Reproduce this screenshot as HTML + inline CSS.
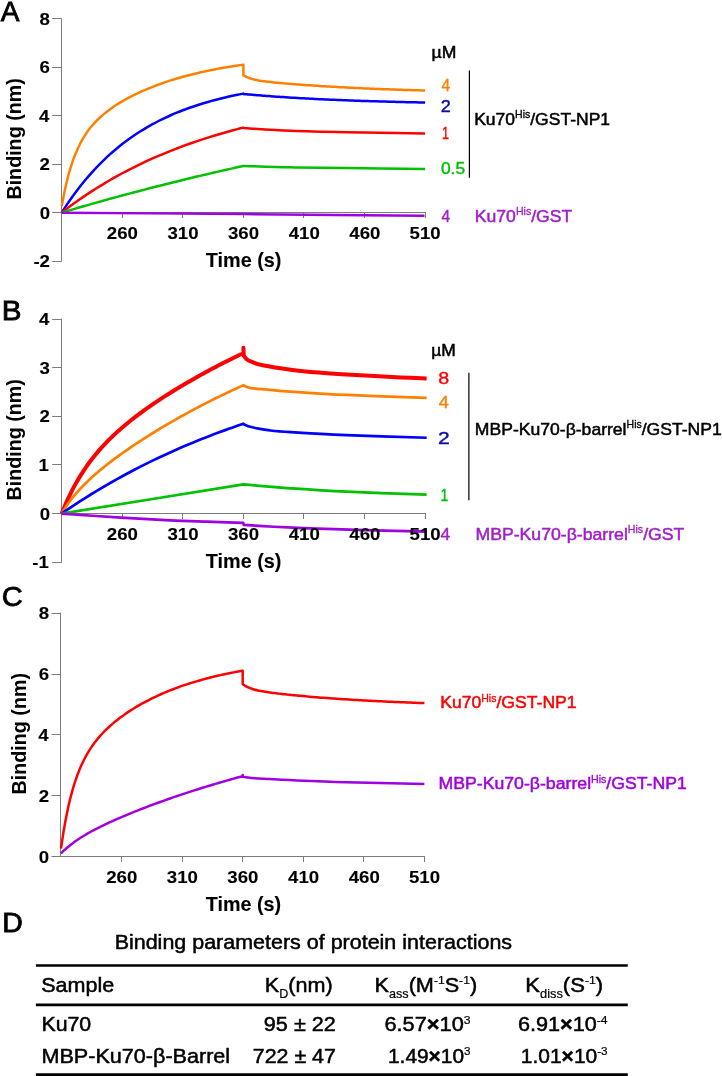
<!DOCTYPE html>
<html><head><meta charset="utf-8"><title>Binding figure</title>
<style>
html,body{margin:0;padding:0;background:#fff;}
svg{display:block;font-family:"Liberation Sans",sans-serif;}
</style></head><body>
<svg width="722" height="1076" viewBox="0 0 722 1076">
<rect width="722" height="1076" fill="#fff"/>
<path d="M61.50 18.39 V261.59 M52.20 18.50 H61.50 M52.20 67.50 H61.50 M52.20 115.50 H61.50 M52.20 164.50 H61.50 M52.20 212.50 H61.50 M52.20 261.50 H61.50 M61.50 212.50 H426.00 M122.50 212.50 V218.00 M182.50 212.50 V218.00 M243.50 212.50 V218.00 M303.50 212.50 V218.00 M364.50 212.50 V218.00 M425.50 212.50 V218.00" stroke="#7c7c7c" stroke-width="1" fill="none"/>
<text transform="translate(21.30 138.90) rotate(-90)" text-anchor="middle" font-size="19.7" font-weight="bold">Binding (nm)</text>
<path d="M61.70 206.35 C62.20 203.74 63.72 195.45 64.73 190.69 C65.74 185.93 66.75 181.73 67.76 177.80 C68.77 173.88 69.78 170.39 70.78 167.12 C71.79 163.85 72.80 160.94 73.81 158.19 C74.82 155.44 75.83 152.98 76.84 150.65 C77.85 148.32 78.86 146.21 79.87 144.21 C80.88 142.22 81.89 140.40 82.90 138.67 C83.91 136.94 84.92 135.35 85.93 133.84 C86.94 132.32 87.94 130.92 88.95 129.58 C89.96 128.24 90.97 126.99 91.98 125.80 C92.99 124.60 94.00 123.47 95.01 122.39 C96.02 121.31 97.03 120.29 98.04 119.30 C99.05 118.32 100.06 117.38 101.07 116.48 C102.08 115.57 103.09 114.71 104.10 113.87 C105.10 113.03 106.11 112.22 107.12 111.44 C108.13 110.66 109.14 109.91 110.15 109.18 C111.16 108.44 112.17 107.74 113.18 107.05 C114.19 106.36 115.20 105.69 116.21 105.03 C117.22 104.38 118.23 103.75 119.24 103.13 C120.25 102.51 121.26 101.90 122.27 101.31 C123.27 100.72 124.28 100.15 125.29 99.58 C126.30 99.02 127.31 98.47 128.32 97.93 C129.33 97.39 130.34 96.86 131.35 96.34 C132.36 95.83 133.37 95.32 134.38 94.82 C135.39 94.33 136.40 93.84 137.41 93.36 C138.42 92.89 139.43 92.42 140.43 91.96 C141.44 91.50 142.45 91.05 143.46 90.61 C144.47 90.17 145.48 89.73 146.49 89.31 C147.50 88.88 148.51 88.46 149.52 88.05 C150.53 87.64 151.54 87.24 152.55 86.84 C153.56 86.44 154.57 86.06 155.58 85.67 C156.59 85.29 157.59 84.92 158.60 84.55 C159.61 84.18 160.62 83.82 161.63 83.46 C162.64 83.10 163.65 82.75 164.66 82.41 C165.67 82.07 166.68 81.73 167.69 81.40 C168.70 81.06 169.71 80.74 170.72 80.42 C171.73 80.10 172.74 79.78 173.75 79.47 C174.75 79.16 175.76 78.86 176.77 78.56 C177.78 78.26 178.79 77.96 179.80 77.68 C180.81 77.39 181.82 77.10 182.83 76.82 C183.84 76.54 184.85 76.27 185.86 76.00 C186.87 75.73 187.88 75.46 188.89 75.20 C189.90 74.94 190.91 74.69 191.91 74.44 C192.92 74.18 193.93 73.94 194.94 73.69 C195.95 73.45 196.96 73.21 197.97 72.98 C198.98 72.74 199.99 72.51 201.00 72.28 C202.01 72.05 203.02 71.83 204.03 71.61 C205.04 71.39 206.05 71.18 207.06 70.96 C208.07 70.75 209.07 70.54 210.08 70.34 C211.09 70.13 212.10 69.93 213.11 69.73 C214.12 69.54 215.13 69.34 216.14 69.15 C217.15 68.96 218.16 68.77 219.17 68.59 C220.18 68.40 221.19 68.22 222.20 68.04 C223.21 67.86 224.22 67.69 225.23 67.51 C226.23 67.34 227.24 67.17 228.25 67.00 C229.26 66.84 230.27 66.67 231.28 66.51 C232.29 66.35 233.30 66.19 234.31 66.04 C235.32 65.88 236.33 65.73 237.34 65.58 C238.35 65.43 239.36 65.28 240.37 65.13 C241.38 64.99 242.89 64.77 243.39 64.70 L243.39 75.31 C243.90 75.59 245.41 76.48 246.42 76.96 C247.43 77.44 248.44 77.82 249.45 78.18 C250.46 78.54 251.47 78.83 252.48 79.11 C253.49 79.38 254.50 79.62 255.51 79.83 C256.52 80.05 257.53 80.24 258.54 80.42 C259.55 80.60 260.56 80.76 261.56 80.92 C262.57 81.07 263.58 81.21 264.59 81.34 C265.60 81.48 266.61 81.60 267.62 81.72 C268.63 81.84 269.64 81.96 270.65 82.07 C271.66 82.18 272.67 82.28 273.68 82.39 C274.69 82.49 275.70 82.59 276.71 82.69 C277.72 82.78 278.72 82.88 279.73 82.97 C280.74 83.07 281.75 83.16 282.76 83.25 C283.77 83.34 284.78 83.42 285.79 83.51 C286.80 83.60 287.81 83.68 288.82 83.76 C289.83 83.85 290.84 83.93 291.85 84.01 C292.86 84.09 293.87 84.17 294.88 84.25 C295.88 84.33 296.89 84.41 297.90 84.49 C298.91 84.56 299.92 84.64 300.93 84.71 C301.94 84.79 302.95 84.86 303.96 84.93 C304.97 85.01 305.98 85.08 306.99 85.15 C308.00 85.22 309.01 85.29 310.02 85.36 C311.03 85.43 312.04 85.50 313.04 85.57 C314.05 85.63 315.06 85.70 316.07 85.77 C317.08 85.83 318.09 85.90 319.10 85.96 C320.11 86.03 321.12 86.09 322.13 86.15 C323.14 86.22 324.15 86.28 325.16 86.34 C326.17 86.40 327.18 86.46 328.19 86.52 C329.20 86.58 330.20 86.64 331.21 86.70 C332.22 86.76 333.23 86.82 334.24 86.87 C335.25 86.93 336.26 86.99 337.27 87.04 C338.28 87.10 339.29 87.15 340.30 87.21 C341.31 87.26 342.32 87.31 343.33 87.37 C344.34 87.42 345.35 87.47 346.36 87.52 C347.36 87.57 348.37 87.63 349.38 87.68 C350.39 87.73 351.40 87.78 352.41 87.83 C353.42 87.87 354.43 87.92 355.44 87.97 C356.45 88.02 357.46 88.07 358.47 88.11 C359.48 88.16 360.49 88.21 361.50 88.25 C362.51 88.30 363.52 88.34 364.52 88.39 C365.53 88.43 366.54 88.48 367.55 88.52 C368.56 88.56 369.57 88.61 370.58 88.65 C371.59 88.69 372.60 88.73 373.61 88.78 C374.62 88.82 375.63 88.86 376.64 88.90 C377.65 88.94 378.66 88.98 379.67 89.02 C380.68 89.06 381.69 89.10 382.69 89.14 C383.70 89.17 384.71 89.21 385.72 89.25 C386.73 89.29 387.74 89.32 388.75 89.36 C389.76 89.40 390.77 89.43 391.78 89.47 C392.79 89.51 393.80 89.54 394.81 89.58 C395.82 89.61 396.83 89.64 397.84 89.68 C398.85 89.71 399.85 89.75 400.86 89.78 C401.87 89.81 402.88 89.85 403.89 89.88 C404.90 89.91 405.91 89.94 406.92 89.97 C407.93 90.01 408.94 90.04 409.95 90.07 C410.96 90.10 411.97 90.13 412.98 90.16 C413.99 90.19 415.00 90.22 416.01 90.25 C417.01 90.28 418.02 90.31 419.03 90.34 C420.04 90.37 421.05 90.39 422.06 90.42 C423.07 90.45 424.59 90.49 425.09 90.51" stroke="#ff8000" stroke-width="2.50" fill="none" stroke-linejoin="round"/>
<path d="M61.70 212.65 C62.71 211.11 65.74 206.38 67.76 203.41 C69.78 200.43 71.79 197.57 73.81 194.79 C75.83 192.02 77.85 189.35 79.87 186.77 C81.89 184.19 83.91 181.70 85.93 179.30 C87.94 176.89 89.96 174.58 91.98 172.34 C94.00 170.09 96.02 167.94 98.04 165.85 C100.06 163.76 102.08 161.75 104.10 159.81 C106.11 157.86 108.13 155.99 110.15 154.18 C112.17 152.36 114.19 150.62 116.21 148.93 C118.23 147.24 120.25 145.62 122.27 144.05 C124.28 142.47 126.30 140.96 128.32 139.50 C130.34 138.03 132.36 136.62 134.38 135.25 C136.40 133.89 138.42 132.58 140.43 131.30 C142.45 130.03 144.47 128.81 146.49 127.62 C148.51 126.44 150.53 125.30 152.55 124.20 C154.57 123.09 156.59 122.03 158.60 121.00 C160.62 119.97 162.64 118.99 164.66 118.03 C166.68 117.07 168.70 116.15 170.72 115.26 C172.74 114.36 174.75 113.50 176.77 112.67 C178.79 111.84 180.81 111.04 182.83 110.27 C184.85 109.49 186.87 108.75 188.89 108.03 C190.91 107.31 192.92 106.61 194.94 105.94 C196.96 105.27 198.98 104.62 201.00 103.99 C203.02 103.37 205.04 102.77 207.06 102.18 C209.07 101.60 211.09 101.04 213.11 100.49 C215.13 99.95 217.15 99.43 219.17 98.92 C221.19 98.41 223.21 97.93 225.23 97.46 C227.24 96.98 229.26 96.53 231.28 96.09 C233.30 95.65 235.32 95.23 237.34 94.82 C239.36 94.41 242.39 93.83 243.39 93.64 L243.39 93.97 C243.90 94.02 245.41 94.16 246.42 94.25 C247.43 94.34 248.44 94.43 249.45 94.52 C250.46 94.61 251.47 94.70 252.48 94.78 C253.49 94.87 254.50 94.95 255.51 95.04 C256.52 95.12 257.53 95.21 258.54 95.29 C259.55 95.37 260.56 95.45 261.56 95.53 C262.57 95.61 263.58 95.69 264.59 95.77 C265.60 95.85 266.61 95.92 267.62 96.00 C268.63 96.08 269.64 96.15 270.65 96.23 C271.66 96.30 272.67 96.37 273.68 96.45 C274.69 96.52 275.70 96.59 276.71 96.66 C277.72 96.73 278.72 96.80 279.73 96.87 C280.74 96.94 281.75 97.01 282.76 97.07 C283.77 97.14 284.78 97.21 285.79 97.27 C286.80 97.34 287.81 97.40 288.82 97.46 C289.83 97.53 290.84 97.59 291.85 97.65 C292.86 97.71 293.87 97.78 294.88 97.84 C295.88 97.90 296.89 97.96 297.90 98.01 C298.91 98.07 299.92 98.13 300.93 98.19 C301.94 98.25 302.95 98.30 303.96 98.36 C304.97 98.41 305.98 98.47 306.99 98.52 C308.00 98.58 309.01 98.63 310.02 98.69 C311.03 98.74 312.04 98.79 313.04 98.84 C314.05 98.89 315.06 98.95 316.07 99.00 C317.08 99.05 318.09 99.10 319.10 99.15 C320.11 99.19 321.12 99.24 322.13 99.29 C323.14 99.34 324.15 99.39 325.16 99.43 C326.17 99.48 327.18 99.53 328.19 99.57 C329.20 99.62 330.20 99.66 331.21 99.71 C332.22 99.75 333.23 99.79 334.24 99.84 C335.25 99.88 336.26 99.92 337.27 99.97 C338.28 100.01 339.29 100.05 340.30 100.09 C341.31 100.13 342.32 100.17 343.33 100.21 C344.34 100.25 345.35 100.29 346.36 100.33 C347.36 100.37 348.37 100.41 349.38 100.45 C350.39 100.48 351.40 100.52 352.41 100.56 C353.42 100.59 354.43 100.63 355.44 100.67 C356.45 100.70 357.46 100.74 358.47 100.77 C359.48 100.81 360.49 100.84 361.50 100.88 C362.51 100.91 363.52 100.95 364.52 100.98 C365.53 101.01 366.54 101.05 367.55 101.08 C368.56 101.11 369.57 101.14 370.58 101.18 C371.59 101.21 372.60 101.24 373.61 101.27 C374.62 101.30 375.63 101.33 376.64 101.36 C377.65 101.39 378.66 101.42 379.67 101.45 C380.68 101.48 381.69 101.51 382.69 101.54 C383.70 101.57 384.71 101.59 385.72 101.62 C386.73 101.65 387.74 101.68 388.75 101.70 C389.76 101.73 390.77 101.76 391.78 101.78 C392.79 101.81 393.80 101.84 394.81 101.86 C395.82 101.89 396.83 101.91 397.84 101.94 C398.85 101.96 399.85 101.99 400.86 102.01 C401.87 102.04 402.88 102.06 403.89 102.09 C404.90 102.11 405.91 102.13 406.92 102.16 C407.93 102.18 408.94 102.20 409.95 102.23 C410.96 102.25 411.97 102.27 412.98 102.29 C413.99 102.32 415.00 102.34 416.01 102.36 C417.01 102.38 418.02 102.40 419.03 102.42 C420.04 102.44 421.05 102.46 422.06 102.49 C423.07 102.51 424.59 102.54 425.09 102.55" stroke="#0000ff" stroke-width="2.50" fill="none" stroke-linejoin="round"/>
<path d="M61.70 212.65 C62.71 211.88 65.74 209.53 67.76 208.01 C69.78 206.50 71.79 205.01 73.81 203.55 C75.83 202.09 77.85 200.66 79.87 199.25 C81.89 197.84 83.91 196.46 85.93 195.11 C87.94 193.75 89.96 192.42 91.98 191.12 C94.00 189.81 96.02 188.53 98.04 187.27 C100.06 186.02 102.08 184.78 104.10 183.57 C106.11 182.36 108.13 181.17 110.15 180.01 C112.17 178.84 114.19 177.70 116.21 176.57 C118.23 175.45 120.25 174.35 122.27 173.27 C124.28 172.18 126.30 171.12 128.32 170.08 C130.34 169.04 132.36 168.02 134.38 167.01 C136.40 166.01 138.42 165.02 140.43 164.06 C142.45 163.09 144.47 162.14 146.49 161.21 C148.51 160.28 150.53 159.36 152.55 158.47 C154.57 157.57 156.59 156.69 158.60 155.83 C160.62 154.96 162.64 154.11 164.66 153.28 C166.68 152.45 168.70 151.63 170.72 150.83 C172.74 150.03 174.75 149.24 176.77 148.47 C178.79 147.70 180.81 146.94 182.83 146.20 C184.85 145.45 186.87 144.72 188.89 144.01 C190.91 143.29 192.92 142.59 194.94 141.90 C196.96 141.21 198.98 140.53 201.00 139.87 C203.02 139.20 205.04 138.55 207.06 137.91 C209.07 137.27 211.09 136.64 213.11 136.03 C215.13 135.41 217.15 134.81 219.17 134.21 C221.19 133.62 223.21 133.03 225.23 132.46 C227.24 131.89 229.26 131.33 231.28 130.78 C233.30 130.23 235.32 129.69 237.34 129.16 C239.36 128.63 242.39 127.85 243.39 127.59 L244.00 128.12 C251.77 128.57 273.58 130.10 290.64 130.79 C307.69 131.47 323.95 131.80 346.36 132.24 C368.76 132.68 411.97 133.25 425.09 133.45" stroke="#ff0000" stroke-width="2.50" fill="none" stroke-linejoin="round"/>
<path d="M61.70 212.65 C62.71 212.35 65.74 211.45 67.76 210.86 C69.78 210.26 71.79 209.67 73.81 209.08 C75.83 208.49 77.85 207.90 79.87 207.32 C81.89 206.74 83.91 206.16 85.93 205.58 C87.94 205.00 89.96 204.43 91.98 203.85 C94.00 203.28 96.02 202.71 98.04 202.15 C100.06 201.58 102.08 201.02 104.10 200.46 C106.11 199.90 108.13 199.34 110.15 198.79 C112.17 198.23 114.19 197.68 116.21 197.13 C118.23 196.58 120.25 196.03 122.27 195.49 C124.28 194.95 126.30 194.41 128.32 193.87 C130.34 193.33 132.36 192.79 134.38 192.26 C136.40 191.73 138.42 191.20 140.43 190.67 C142.45 190.14 144.47 189.62 146.49 189.09 C148.51 188.57 150.53 188.05 152.55 187.54 C154.57 187.02 156.59 186.50 158.60 185.99 C160.62 185.48 162.64 184.97 164.66 184.46 C166.68 183.96 168.70 183.45 170.72 182.95 C172.74 182.45 174.75 181.95 176.77 181.45 C178.79 180.96 180.81 180.46 182.83 179.97 C184.85 179.48 186.87 178.99 188.89 178.50 C190.91 178.02 192.92 177.53 194.94 177.05 C196.96 176.57 198.98 176.09 201.00 175.61 C203.02 175.13 205.04 174.66 207.06 174.19 C209.07 173.71 211.09 173.24 213.11 172.78 C215.13 172.31 217.15 171.84 219.17 171.38 C221.19 170.92 223.21 170.46 225.23 170.00 C227.24 169.54 229.26 169.08 231.28 168.63 C233.30 168.18 235.32 167.73 237.34 167.28 C239.36 166.83 242.39 166.16 243.39 165.94 L244.61 165.91 C252.28 166.15 273.68 167.00 290.64 167.36 C307.59 167.72 323.95 167.80 346.36 168.09 C368.76 168.37 411.97 168.89 425.09 169.05" stroke="#00c000" stroke-width="2.50" fill="none" stroke-linejoin="round"/>
<path d="M61.70 212.65 C91.98 212.89 213.11 213.86 243.39 214.10 L243.39 214.10 C273.58 214.39 394.30 215.52 424.48 215.80" stroke="#a000e0" stroke-width="2.50" fill="none" stroke-linejoin="round"/>
<path d="M469.4 70.5 V177.7" stroke="#000" stroke-width="1.2"/>
<path d="M61.50 318.65 V562.65 M52.20 319.50 H61.50 M52.20 367.50 H61.50 M52.20 416.50 H61.50 M52.20 464.50 H61.50 M52.20 513.50 H61.50 M52.20 562.50 H61.50 M61.50 513.50 H426.00 M122.50 513.50 V519.00 M182.50 513.50 V519.00 M243.50 513.50 V519.00 M303.50 513.50 V519.00 M364.50 513.50 V519.00 M425.50 513.50 V519.00" stroke="#7c7c7c" stroke-width="1" fill="none"/>
<text transform="translate(21.30 439.80) rotate(-90)" text-anchor="middle" font-size="19.7" font-weight="bold">Binding (nm)</text>
<path d="M61.70 513.55 C62.20 512.32 63.72 508.54 64.73 506.17 C65.74 503.81 66.75 501.55 67.76 499.36 C68.77 497.17 69.78 495.07 70.78 493.04 C71.79 491.01 72.80 489.06 73.81 487.17 C74.82 485.28 75.83 483.46 76.84 481.70 C77.85 479.94 78.86 478.24 79.87 476.59 C80.88 474.94 81.89 473.34 82.90 471.79 C83.91 470.25 84.92 468.75 85.93 467.29 C86.94 465.83 87.94 464.42 88.95 463.04 C89.96 461.66 90.97 460.33 91.98 459.03 C92.99 457.72 94.00 456.46 95.01 455.22 C96.02 453.98 97.03 452.77 98.04 451.60 C99.05 450.42 100.06 449.27 101.07 448.14 C102.08 447.02 103.09 445.92 104.10 444.84 C105.10 443.76 106.11 442.71 107.12 441.68 C108.13 440.64 109.14 439.63 110.15 438.64 C111.16 437.65 112.17 436.67 113.18 435.71 C114.19 434.75 115.20 433.81 116.21 432.89 C117.22 431.96 118.23 431.05 119.24 430.16 C120.25 429.26 121.26 428.38 122.27 427.51 C123.27 426.64 124.28 425.79 125.29 424.94 C126.30 424.10 127.31 423.27 128.32 422.45 C129.33 421.63 130.34 420.82 131.35 420.01 C132.36 419.21 133.37 418.42 134.38 417.64 C135.39 416.86 136.40 416.09 137.41 415.33 C138.42 414.56 139.43 413.81 140.43 413.06 C141.44 412.31 142.45 411.57 143.46 410.84 C144.47 410.11 145.48 409.39 146.49 408.67 C147.50 407.95 148.51 407.24 149.52 406.54 C150.53 405.83 151.54 405.13 152.55 404.44 C153.56 403.75 154.57 403.06 155.58 402.38 C156.59 401.70 157.59 401.03 158.60 400.36 C159.61 399.69 160.62 399.03 161.63 398.37 C162.64 397.71 163.65 397.06 164.66 396.41 C165.67 395.76 166.68 395.11 167.69 394.47 C168.70 393.83 169.71 393.20 170.72 392.57 C171.73 391.94 172.74 391.31 173.75 390.69 C174.75 390.07 175.76 389.45 176.77 388.84 C177.78 388.22 178.79 387.61 179.80 387.01 C180.81 386.40 181.82 385.80 182.83 385.20 C183.84 384.60 184.85 384.01 185.86 383.41 C186.87 382.82 187.88 382.24 188.89 381.65 C189.90 381.07 190.91 380.49 191.91 379.91 C192.92 379.33 193.93 378.76 194.94 378.19 C195.95 377.62 196.96 377.05 197.97 376.49 C198.98 375.92 199.99 375.36 201.00 374.80 C202.01 374.25 203.02 373.69 204.03 373.14 C205.04 372.59 206.05 372.04 207.06 371.49 C208.07 370.95 209.07 370.40 210.08 369.86 C211.09 369.32 212.10 368.79 213.11 368.25 C214.12 367.72 215.13 367.19 216.14 366.66 C217.15 366.13 218.16 365.60 219.17 365.08 C220.18 364.56 221.19 364.04 222.20 363.52 C223.21 363.00 224.22 362.49 225.23 361.97 C226.23 361.46 227.24 360.95 228.25 360.45 C229.26 359.94 230.27 359.43 231.28 358.93 C232.29 358.43 233.30 357.93 234.31 357.43 C235.32 356.94 236.33 356.44 237.34 355.95 C238.35 355.46 239.36 354.97 240.37 354.48 C241.38 353.99 242.89 354.14 243.39 353.03 C243.90 351.92 243.39 348.69 243.39 347.82 L243.76 355.60 C244.30 356.25 245.68 358.43 247.03 359.49 C248.38 360.54 249.25 360.95 251.87 361.92 C254.50 362.89 256.32 364.02 262.78 365.32 C269.24 366.62 281.35 368.48 290.64 369.69 C299.92 370.91 309.21 371.80 318.50 372.61 C327.78 373.42 337.07 373.99 346.36 374.55 C355.64 375.12 365.13 375.53 374.22 376.01 C383.30 376.50 392.12 377.06 400.86 377.47 C409.61 377.88 422.36 378.28 426.66 378.44" stroke="#ff0000" stroke-width="4.00" fill="none" stroke-linejoin="round"/>
<path d="M61.70 513.55 C62.20 512.74 63.72 510.23 64.73 508.68 C65.74 507.12 66.75 505.64 67.76 504.20 C68.77 502.77 69.78 501.39 70.78 500.06 C71.79 498.73 72.80 497.46 73.81 496.22 C74.82 494.97 75.83 493.78 76.84 492.61 C77.85 491.45 78.86 490.32 79.87 489.22 C80.88 488.12 81.89 487.06 82.90 486.01 C83.91 484.97 84.92 483.95 85.93 482.96 C86.94 481.96 87.94 480.99 88.95 480.04 C89.96 479.08 90.97 478.15 91.98 477.23 C92.99 476.32 94.00 475.42 95.01 474.53 C96.02 473.65 97.03 472.78 98.04 471.92 C99.05 471.07 100.06 470.22 101.07 469.39 C102.08 468.56 103.09 467.74 104.10 466.93 C105.10 466.12 106.11 465.32 107.12 464.53 C108.13 463.74 109.14 462.96 110.15 462.18 C111.16 461.41 112.17 460.64 113.18 459.89 C114.19 459.13 115.20 458.38 116.21 457.64 C117.22 456.90 118.23 456.16 119.24 455.43 C120.25 454.70 121.26 453.98 122.27 453.26 C123.27 452.55 124.28 451.83 125.29 451.13 C126.30 450.42 127.31 449.72 128.32 449.03 C129.33 448.33 130.34 447.64 131.35 446.96 C132.36 446.28 133.37 445.60 134.38 444.92 C135.39 444.25 136.40 443.58 137.41 442.91 C138.42 442.24 139.43 441.58 140.43 440.92 C141.44 440.27 142.45 439.61 143.46 438.97 C144.47 438.32 145.48 437.67 146.49 437.03 C147.50 436.39 148.51 435.75 149.52 435.12 C150.53 434.49 151.54 433.86 152.55 433.23 C153.56 432.60 154.57 431.98 155.58 431.36 C156.59 430.75 157.59 430.13 158.60 429.52 C159.61 428.91 160.62 428.30 161.63 427.70 C162.64 427.09 163.65 426.49 164.66 425.89 C165.67 425.30 166.68 424.70 167.69 424.11 C168.70 423.52 169.71 422.93 170.72 422.35 C171.73 421.76 172.74 421.18 173.75 420.60 C174.75 420.03 175.76 419.45 176.77 418.88 C177.78 418.31 178.79 417.74 179.80 417.17 C180.81 416.61 181.82 416.05 182.83 415.49 C183.84 414.93 184.85 414.37 185.86 413.82 C186.87 413.26 187.88 412.71 188.89 412.17 C189.90 411.62 190.91 411.07 191.91 410.53 C192.92 409.99 193.93 409.45 194.94 408.92 C195.95 408.38 196.96 407.85 197.97 407.32 C198.98 406.79 199.99 406.26 201.00 405.74 C202.01 405.21 203.02 404.69 204.03 404.17 C205.04 403.65 206.05 403.14 207.06 402.62 C208.07 402.11 209.07 401.60 210.08 401.09 C211.09 400.58 212.10 400.08 213.11 399.58 C214.12 399.07 215.13 398.58 216.14 398.08 C217.15 397.58 218.16 397.09 219.17 396.59 C220.18 396.10 221.19 395.61 222.20 395.13 C223.21 394.64 224.22 394.16 225.23 393.68 C226.23 393.19 227.24 392.72 228.25 392.24 C229.26 391.76 230.27 391.29 231.28 390.82 C232.29 390.35 233.30 389.88 234.31 389.41 C235.32 388.94 236.33 388.48 237.34 388.02 C238.35 387.56 239.36 387.10 240.37 386.64 C241.38 386.19 242.89 385.51 243.39 385.28 L243.39 385.25 C244.20 385.61 246.22 386.87 248.24 387.43 C250.26 388.00 251.87 388.24 255.51 388.65 C259.14 389.05 264.19 389.38 270.04 389.86 C275.90 390.35 277.92 390.71 290.64 391.56 C303.35 392.41 323.68 393.91 346.36 394.97 C369.03 396.02 413.28 397.40 426.66 397.88" stroke="#ff8000" stroke-width="2.70" fill="none" stroke-linejoin="round"/>
<path d="M61.70 513.55 C62.71 512.86 65.74 510.77 67.76 509.40 C69.78 508.03 71.79 506.68 73.81 505.35 C75.83 504.02 77.85 502.70 79.87 501.40 C81.89 500.09 83.91 498.81 85.93 497.53 C87.94 496.26 89.96 495.01 91.98 493.77 C94.00 492.52 96.02 491.30 98.04 490.09 C100.06 488.87 102.08 487.68 104.10 486.49 C106.11 485.31 108.13 484.14 110.15 482.99 C112.17 481.83 114.19 480.69 116.21 479.56 C118.23 478.43 120.25 477.32 122.27 476.22 C124.28 475.12 126.30 474.03 128.32 472.95 C130.34 471.88 132.36 470.82 134.38 469.77 C136.40 468.72 138.42 467.68 140.43 466.66 C142.45 465.63 144.47 464.62 146.49 463.62 C148.51 462.62 150.53 461.63 152.55 460.66 C154.57 459.68 156.59 458.71 158.60 457.76 C160.62 456.81 162.64 455.87 164.66 454.93 C166.68 454.00 168.70 453.08 170.72 452.18 C172.74 451.27 174.75 450.37 176.77 449.48 C178.79 448.59 180.81 447.72 182.83 446.85 C184.85 445.99 186.87 445.13 188.89 444.28 C190.91 443.44 192.92 442.60 194.94 441.78 C196.96 440.95 198.98 440.14 201.00 439.33 C203.02 438.53 205.04 437.73 207.06 436.94 C209.07 436.16 211.09 435.38 213.11 434.61 C215.13 433.84 217.15 433.08 219.17 432.33 C221.19 431.58 223.21 430.84 225.23 430.11 C227.24 429.38 229.26 428.65 231.28 427.94 C233.30 427.22 235.32 426.52 237.34 425.82 C239.36 425.12 242.39 424.10 243.39 423.75 L243.39 424.13 C244.20 424.49 246.22 425.66 248.24 426.31 C250.26 426.96 251.87 427.33 255.51 428.01 C259.14 428.70 264.19 429.76 270.04 430.44 C275.90 431.13 277.92 431.38 290.64 432.14 C303.35 432.91 323.68 434.13 346.36 435.06 C369.03 435.99 413.28 437.29 426.66 437.73" stroke="#0000ff" stroke-width="2.70" fill="none" stroke-linejoin="round"/>
<path d="M61.70 513.55 C91.98 508.69 213.11 489.25 243.39 484.39 L243.39 484.39 C251.27 485.04 273.48 487.06 290.64 488.28 C307.80 489.49 323.68 490.63 346.36 491.68 C369.03 492.73 413.28 494.11 426.66 494.60" stroke="#00c000" stroke-width="2.70" fill="none" stroke-linejoin="round"/>
<path d="M61.70 513.55 C71.57 514.24 102.88 516.53 120.93 517.68 C138.98 518.83 155.64 519.78 169.99 520.45 C184.34 521.12 194.86 521.33 207.06 521.71 C219.25 522.10 237.14 522.61 243.15 522.78 L243.88 524.97 C248.85 525.27 263.66 526.24 273.68 526.77 C283.69 527.30 293.87 527.73 303.96 528.13 C314.05 528.53 324.15 528.88 334.24 529.20 C344.34 529.52 354.43 529.80 364.52 530.07 C374.62 530.35 384.45 530.61 394.81 530.85 C405.16 531.09 421.36 531.42 426.66 531.53" stroke="#a000e0" stroke-width="2.70" fill="none" stroke-linejoin="round"/>
<path d="M468.9 372.8 V500.2" stroke="#000" stroke-width="1.2"/>
<path d="M60.50 612.70 V856.90 M51.50 613.50 H60.50 M51.50 674.50 H60.50 M51.50 734.50 H60.50 M51.50 795.50 H60.50 M51.50 856.50 H60.50 M60.50 856.50 H425.00 M121.50 856.50 V862.00 M182.50 856.50 V862.00 M242.50 856.50 V862.00 M303.50 856.50 V862.00 M363.50 856.50 V862.00 M424.50 856.50 V862.00" stroke="#7c7c7c" stroke-width="1" fill="none"/>
<text transform="translate(26.40 733.70) rotate(-90)" text-anchor="middle" font-size="19.7" font-weight="bold">Binding (nm)</text>
<path d="M61.00 848.50 C61.50 845.22 63.02 834.81 64.03 828.84 C65.04 822.86 66.05 817.59 67.06 812.66 C68.07 807.73 69.08 803.36 70.08 799.26 C71.09 795.15 72.10 791.49 73.11 788.04 C74.12 784.60 75.13 781.50 76.14 778.57 C77.15 775.65 78.16 773.01 79.17 770.50 C80.18 767.99 81.19 765.71 82.20 763.54 C83.21 761.37 84.22 759.38 85.23 757.48 C86.24 755.58 87.24 753.82 88.25 752.14 C89.26 750.45 90.27 748.89 91.28 747.38 C92.29 745.88 93.30 744.47 94.31 743.11 C95.32 741.75 96.33 740.47 97.34 739.23 C98.35 738.00 99.36 736.82 100.37 735.69 C101.38 734.55 102.39 733.46 103.40 732.41 C104.40 731.36 105.41 730.35 106.42 729.37 C107.43 728.39 108.44 727.44 109.45 726.52 C110.46 725.60 111.47 724.72 112.48 723.85 C113.49 722.98 114.50 722.15 115.51 721.33 C116.52 720.51 117.53 719.71 118.54 718.93 C119.55 718.15 120.56 717.40 121.56 716.65 C122.57 715.91 123.58 715.19 124.59 714.48 C125.60 713.77 126.61 713.08 127.62 712.41 C128.63 711.73 129.64 711.07 130.65 710.42 C131.66 709.77 132.67 709.13 133.68 708.51 C134.69 707.89 135.70 707.28 136.71 706.68 C137.72 706.08 138.73 705.49 139.73 704.91 C140.74 704.34 141.75 703.77 142.76 703.22 C143.77 702.66 144.78 702.12 145.79 701.58 C146.80 701.05 147.81 700.52 148.82 700.01 C149.83 699.49 150.84 698.99 151.85 698.49 C152.86 697.99 153.87 697.50 154.88 697.02 C155.89 696.54 156.89 696.07 157.90 695.61 C158.91 695.15 159.92 694.69 160.93 694.24 C161.94 693.80 162.95 693.36 163.96 692.93 C164.97 692.50 165.98 692.07 166.99 691.65 C168.00 691.24 169.01 690.83 170.02 690.43 C171.03 690.02 172.04 689.63 173.05 689.24 C174.05 688.85 175.06 688.47 176.07 688.09 C177.08 687.72 178.09 687.35 179.10 686.99 C180.11 686.62 181.12 686.27 182.13 685.92 C183.14 685.56 184.15 685.22 185.16 684.88 C186.17 684.54 187.18 684.21 188.19 683.88 C189.20 683.56 190.21 683.23 191.21 682.92 C192.22 682.60 193.23 682.29 194.24 681.99 C195.25 681.68 196.26 681.38 197.27 681.09 C198.28 680.79 199.29 680.50 200.30 680.22 C201.31 679.93 202.32 679.65 203.33 679.37 C204.34 679.10 205.35 678.83 206.36 678.56 C207.37 678.30 208.37 678.03 209.38 677.78 C210.39 677.52 211.40 677.27 212.41 677.02 C213.42 676.77 214.43 676.52 215.44 676.28 C216.45 676.04 217.46 675.81 218.47 675.58 C219.48 675.34 220.49 675.12 221.50 674.89 C222.51 674.67 223.52 674.45 224.53 674.23 C225.53 674.01 226.54 673.80 227.55 673.59 C228.56 673.38 229.57 673.17 230.58 672.97 C231.59 672.77 232.60 672.57 233.61 672.38 C234.62 672.18 235.63 671.99 236.64 671.80 C237.65 671.61 238.66 671.42 239.67 671.24 C240.68 671.06 242.19 670.79 242.69 670.70 L242.69 684.02 C243.20 684.37 244.71 685.49 245.72 686.09 C246.73 686.69 247.74 687.17 248.75 687.62 C249.76 688.07 250.77 688.44 251.78 688.78 C252.79 689.13 253.80 689.42 254.81 689.70 C255.82 689.97 256.83 690.21 257.84 690.43 C258.85 690.66 259.86 690.86 260.86 691.05 C261.87 691.25 262.88 691.42 263.89 691.59 C264.90 691.76 265.91 691.91 266.92 692.06 C267.93 692.22 268.94 692.36 269.95 692.50 C270.96 692.64 271.97 692.77 272.98 692.90 C273.99 693.03 275.00 693.15 276.01 693.28 C277.02 693.40 278.02 693.52 279.03 693.63 C280.04 693.75 281.05 693.87 282.06 693.98 C283.07 694.09 284.08 694.20 285.09 694.31 C286.10 694.42 287.11 694.52 288.12 694.63 C289.13 694.73 290.14 694.84 291.15 694.94 C292.16 695.04 293.17 695.14 294.18 695.24 C295.18 695.34 296.19 695.44 297.20 695.53 C298.21 695.63 299.22 695.72 300.23 695.82 C301.24 695.91 302.25 696.01 303.26 696.10 C304.27 696.19 305.28 696.28 306.29 696.37 C307.30 696.46 308.31 696.55 309.32 696.63 C310.33 696.72 311.34 696.81 312.34 696.89 C313.35 696.98 314.36 697.06 315.37 697.14 C316.38 697.22 317.39 697.31 318.40 697.39 C319.41 697.47 320.42 697.55 321.43 697.63 C322.44 697.71 323.45 697.78 324.46 697.86 C325.47 697.94 326.48 698.01 327.49 698.09 C328.50 698.16 329.50 698.24 330.51 698.31 C331.52 698.38 332.53 698.46 333.54 698.53 C334.55 698.60 335.56 698.67 336.57 698.74 C337.58 698.81 338.59 698.88 339.60 698.95 C340.61 699.02 341.62 699.08 342.63 699.15 C343.64 699.22 344.65 699.28 345.66 699.35 C346.66 699.41 347.67 699.47 348.68 699.54 C349.69 699.60 350.70 699.66 351.71 699.73 C352.72 699.79 353.73 699.85 354.74 699.91 C355.75 699.97 356.76 700.03 357.77 700.09 C358.78 700.15 359.79 700.20 360.80 700.26 C361.81 700.32 362.82 700.38 363.82 700.43 C364.83 700.49 365.84 700.54 366.85 700.60 C367.86 700.65 368.87 700.71 369.88 700.76 C370.89 700.81 371.90 700.87 372.91 700.92 C373.92 700.97 374.93 701.02 375.94 701.07 C376.95 701.12 377.96 701.17 378.97 701.22 C379.98 701.27 380.99 701.32 381.99 701.37 C383.00 701.42 384.01 701.46 385.02 701.51 C386.03 701.56 387.04 701.61 388.05 701.65 C389.06 701.70 390.07 701.74 391.08 701.79 C392.09 701.83 393.10 701.88 394.11 701.92 C395.12 701.97 396.13 702.01 397.14 702.05 C398.15 702.09 399.15 702.14 400.16 702.18 C401.17 702.22 402.18 702.26 403.19 702.30 C404.20 702.34 405.21 702.38 406.22 702.42 C407.23 702.46 408.24 702.50 409.25 702.54 C410.26 702.58 411.27 702.62 412.28 702.66 C413.29 702.69 414.30 702.73 415.31 702.77 C416.31 702.81 417.32 702.84 418.33 702.88 C419.34 702.91 420.35 702.95 421.36 702.98 C422.37 703.02 423.89 703.07 424.39 703.09" stroke="#ff0000" stroke-width="2.50" fill="none" stroke-linejoin="round"/>
<path d="M61.00 853.36 C61.50 852.87 63.02 851.36 64.03 850.43 C65.04 849.49 66.05 848.60 67.06 847.73 C68.07 846.87 69.08 846.05 70.08 845.24 C71.09 844.44 72.10 843.68 73.11 842.93 C74.12 842.18 75.13 841.46 76.14 840.76 C77.15 840.06 78.16 839.38 79.17 838.72 C80.18 838.06 81.19 837.42 82.20 836.79 C83.21 836.16 84.22 835.55 85.23 834.95 C86.24 834.35 87.24 833.77 88.25 833.19 C89.26 832.62 90.27 832.06 91.28 831.51 C92.29 830.96 93.30 830.42 94.31 829.88 C95.32 829.35 96.33 828.83 97.34 828.31 C98.35 827.80 99.36 827.29 100.37 826.79 C101.38 826.29 102.39 825.79 103.40 825.31 C104.40 824.82 105.41 824.34 106.42 823.86 C107.43 823.38 108.44 822.91 109.45 822.45 C110.46 821.98 111.47 821.52 112.48 821.07 C113.49 820.61 114.50 820.16 115.51 819.72 C116.52 819.27 117.53 818.83 118.54 818.39 C119.55 817.95 120.56 817.51 121.56 817.08 C122.57 816.65 123.58 816.22 124.59 815.80 C125.60 815.37 126.61 814.95 127.62 814.53 C128.63 814.12 129.64 813.70 130.65 813.29 C131.66 812.88 132.67 812.47 133.68 812.06 C134.69 811.66 135.70 811.25 136.71 810.85 C137.72 810.45 138.73 810.05 139.73 809.66 C140.74 809.26 141.75 808.87 142.76 808.48 C143.77 808.09 144.78 807.70 145.79 807.31 C146.80 806.93 147.81 806.55 148.82 806.16 C149.83 805.78 150.84 805.40 151.85 805.03 C152.86 804.65 153.87 804.28 154.88 803.91 C155.89 803.53 156.89 803.16 157.90 802.80 C158.91 802.43 159.92 802.06 160.93 801.70 C161.94 801.33 162.95 800.97 163.96 800.61 C164.97 800.25 165.98 799.90 166.99 799.54 C168.00 799.18 169.01 798.83 170.02 798.48 C171.03 798.13 172.04 797.78 173.05 797.43 C174.05 797.08 175.06 796.74 176.07 796.39 C177.08 796.05 178.09 795.71 179.10 795.37 C180.11 795.03 181.12 794.69 182.13 794.35 C183.14 794.01 184.15 793.68 185.16 793.35 C186.17 793.01 187.18 792.68 188.19 792.35 C189.20 792.02 190.21 791.70 191.21 791.37 C192.22 791.04 193.23 790.72 194.24 790.40 C195.25 790.08 196.26 789.75 197.27 789.44 C198.28 789.12 199.29 788.80 200.30 788.48 C201.31 788.17 202.32 787.85 203.33 787.54 C204.34 787.23 205.35 786.92 206.36 786.61 C207.37 786.30 208.37 785.99 209.38 785.69 C210.39 785.38 211.40 785.08 212.41 784.78 C213.42 784.48 214.43 784.17 215.44 783.88 C216.45 783.58 217.46 783.28 218.47 782.98 C219.48 782.69 220.49 782.39 221.50 782.10 C222.51 781.81 223.52 781.52 224.53 781.23 C225.53 780.94 226.54 780.65 227.55 780.36 C228.56 780.08 229.57 779.79 230.58 779.51 C231.59 779.22 232.60 778.94 233.61 778.66 C234.62 778.38 235.63 778.10 236.64 777.82 C237.65 777.55 238.66 777.27 239.67 776.99 C240.68 776.72 242.19 776.52 242.69 776.17 C243.20 775.83 242.69 775.14 242.69 774.93 L243.06 776.75 C243.81 776.88 245.58 777.26 247.54 777.51 C249.50 777.77 251.17 778.02 254.81 778.27 C258.44 778.53 263.49 778.73 269.34 779.03 C275.20 779.34 277.22 779.56 289.94 780.10 C302.65 780.63 323.25 781.57 345.66 782.22 C368.06 782.88 411.27 783.74 424.39 784.05" stroke="#a000e0" stroke-width="2.50" fill="none" stroke-linejoin="round"/>
<path d="M35.9 965.5 H627.8" stroke="#000" stroke-width="2.7"/>
<path d="M35.9 1004.8 H627.8" stroke="#000" stroke-width="2.7"/>
<path d="M35.9 1074.6 H627.8" stroke="#000" stroke-width="2.7"/>
<text transform="translate(0.63 20.80) scale(1.0107 1)" font-size="27.80" fill="#000" stroke="#000" stroke-width="0.80">A</text>
<text transform="translate(1.75 320.30) scale(1.0679 1)" font-size="27.80" fill="#000" stroke="#000" stroke-width="0.80">B</text>
<text transform="translate(1.87 606.00) scale(1.0460 1)" font-size="27.80" fill="#000" stroke="#000" stroke-width="0.80">C</text>
<text transform="translate(2.25 931.90) scale(1.0246 1)" font-size="27.80" fill="#000" stroke="#000" stroke-width="0.80">D</text>
<text transform="translate(39.50 24.99) scale(1.0780 1)" font-size="17.30" font-weight="bold" fill="#000" stroke="#000" stroke-width="0.10">8</text>
<text transform="translate(39.62 73.43) scale(1.0780 1)" font-size="17.30" font-weight="bold" fill="#000" stroke="#000" stroke-width="0.10">6</text>
<text transform="translate(38.95 121.87) scale(1.0780 1)" font-size="17.30" font-weight="bold" fill="#000" stroke="#000" stroke-width="0.10">4</text>
<text transform="translate(39.60 170.31) scale(1.0780 1)" font-size="17.30" font-weight="bold" fill="#000" stroke="#000" stroke-width="0.10">2</text>
<text transform="translate(39.67 218.75) scale(1.0780 1)" font-size="17.30" font-weight="bold" fill="#000" stroke="#000" stroke-width="0.10">0</text>
<text transform="translate(33.40 267.19) scale(1.0780 1)" font-size="17.30" font-weight="bold" fill="#000" stroke="#000" stroke-width="0.10">-2</text>
<text transform="translate(38.95 325.25) scale(1.0780 1)" font-size="17.30" font-weight="bold" fill="#000" stroke="#000" stroke-width="0.10">4</text>
<text transform="translate(39.59 373.85) scale(1.0780 1)" font-size="17.30" font-weight="bold" fill="#000" stroke="#000" stroke-width="0.10">3</text>
<text transform="translate(39.60 422.45) scale(1.0780 1)" font-size="17.30" font-weight="bold" fill="#000" stroke="#000" stroke-width="0.10">2</text>
<text transform="translate(38.60 471.05) scale(1.0780 1)" font-size="17.30" font-weight="bold" fill="#000" stroke="#000" stroke-width="0.10">1</text>
<text transform="translate(39.67 519.65) scale(1.0780 1)" font-size="17.30" font-weight="bold" fill="#000" stroke="#000" stroke-width="0.10">0</text>
<text transform="translate(32.29 568.25) scale(1.0780 1)" font-size="17.30" font-weight="bold" fill="#000" stroke="#000" stroke-width="0.10">-1</text>
<text transform="translate(38.70 619.30) scale(1.0780 1)" font-size="17.30" font-weight="bold" fill="#000" stroke="#000" stroke-width="0.10">8</text>
<text transform="translate(38.82 680.10) scale(1.0780 1)" font-size="17.30" font-weight="bold" fill="#000" stroke="#000" stroke-width="0.10">6</text>
<text transform="translate(38.15 740.90) scale(1.0780 1)" font-size="17.30" font-weight="bold" fill="#000" stroke="#000" stroke-width="0.10">4</text>
<text transform="translate(38.80 801.70) scale(1.0780 1)" font-size="17.30" font-weight="bold" fill="#000" stroke="#000" stroke-width="0.10">2</text>
<text transform="translate(38.87 862.50) scale(1.0780 1)" font-size="17.30" font-weight="bold" fill="#000" stroke="#000" stroke-width="0.10">0</text>
<text transform="translate(106.85 239.00) scale(1.0780 1)" font-size="17.30" font-weight="bold" fill="#000" stroke="#000" stroke-width="0.10">260</text>
<text transform="translate(167.41 239.00) scale(1.0780 1)" font-size="17.30" font-weight="bold" fill="#000" stroke="#000" stroke-width="0.10">310</text>
<text transform="translate(227.97 239.00) scale(1.0780 1)" font-size="17.30" font-weight="bold" fill="#000" stroke="#000" stroke-width="0.10">360</text>
<text transform="translate(288.72 239.00) scale(1.0780 1)" font-size="17.30" font-weight="bold" fill="#000" stroke="#000" stroke-width="0.10">410</text>
<text transform="translate(349.28 239.00) scale(1.0780 1)" font-size="17.30" font-weight="bold" fill="#000" stroke="#000" stroke-width="0.10">460</text>
<text transform="translate(409.61 239.00) scale(1.0780 1)" font-size="17.30" font-weight="bold" fill="#000" stroke="#000" stroke-width="0.10">510</text>
<text transform="translate(106.85 540.20) scale(1.0780 1)" font-size="17.30" font-weight="bold" fill="#000" stroke="#000" stroke-width="0.10">260</text>
<text transform="translate(167.41 540.20) scale(1.0780 1)" font-size="17.30" font-weight="bold" fill="#000" stroke="#000" stroke-width="0.10">310</text>
<text transform="translate(227.97 540.20) scale(1.0780 1)" font-size="17.30" font-weight="bold" fill="#000" stroke="#000" stroke-width="0.10">360</text>
<text transform="translate(288.72 540.20) scale(1.0780 1)" font-size="17.30" font-weight="bold" fill="#000" stroke="#000" stroke-width="0.10">410</text>
<text transform="translate(349.28 540.20) scale(1.0780 1)" font-size="17.30" font-weight="bold" fill="#000" stroke="#000" stroke-width="0.10">460</text>
<text transform="translate(409.61 540.20) scale(1.0780 1)" font-size="17.30" font-weight="bold" fill="#000" stroke="#000" stroke-width="0.10">510</text>
<text transform="translate(106.25 883.20) scale(1.0780 1)" font-size="17.30" font-weight="bold" fill="#000" stroke="#000" stroke-width="0.10">260</text>
<text transform="translate(166.81 883.20) scale(1.0780 1)" font-size="17.30" font-weight="bold" fill="#000" stroke="#000" stroke-width="0.10">310</text>
<text transform="translate(227.37 883.20) scale(1.0780 1)" font-size="17.30" font-weight="bold" fill="#000" stroke="#000" stroke-width="0.10">360</text>
<text transform="translate(288.12 883.20) scale(1.0780 1)" font-size="17.30" font-weight="bold" fill="#000" stroke="#000" stroke-width="0.10">410</text>
<text transform="translate(348.68 883.20) scale(1.0780 1)" font-size="17.30" font-weight="bold" fill="#000" stroke="#000" stroke-width="0.10">460</text>
<text transform="translate(409.01 883.20) scale(1.0780 1)" font-size="17.30" font-weight="bold" fill="#000" stroke="#000" stroke-width="0.10">510</text>
<text transform="translate(205.76 266.80) scale(1.0022 1)" font-size="19.80" font-weight="bold" fill="#000" stroke="#000" stroke-width="0.10">Time (s)</text>
<text transform="translate(205.76 568.20) scale(1.0022 1)" font-size="19.80" font-weight="bold" fill="#000" stroke="#000" stroke-width="0.10">Time (s)</text>
<text transform="translate(205.76 910.90) scale(0.9982 1)" font-size="19.80" font-weight="bold" fill="#000" stroke="#000" stroke-width="0.10">Time (s)</text>
<text transform="translate(431.57 58.00) scale(1.0853 1)" font-size="16.20" fill="#000" stroke="#000" stroke-width="0.50">µM</text>
<text transform="translate(441.43 91.10) scale(0.9590 1)" font-size="16.20" fill="#ff8000" stroke="#ff8000" stroke-width="0.38">4</text>
<text transform="translate(440.69 111.60) scale(1.1143 1)" font-size="16.20" fill="#0c0c9c" stroke="#0c0c9c" stroke-width="0.38">2</text>
<text transform="translate(441.93 138.80) scale(0.7753 1)" font-size="16.20" fill="#ff0000" stroke="#ff0000" stroke-width="0.38">1</text>
<text transform="translate(440.88 174.10) scale(1.0771 1)" font-size="16.20" fill="#00c000" stroke="#00c000" stroke-width="0.38">0.5</text>
<text transform="translate(441.43 221.50) scale(0.9590 1)" font-size="16.20" fill="#a020c8" stroke="#a020c8" stroke-width="0.38">4</text>
<text transform="translate(474.15 124.50) scale(1.0195 1)" font-size="17.20" fill="#000" stroke="#000" stroke-width="0.50">Ku70<tspan font-size="10.3" dy="-6.3" stroke-width="0.3">His</tspan><tspan dy="6.3">/GST-NP1</tspan></text>
<text transform="translate(474.74 221.50) scale(1.0260 1)" font-size="17.20" fill="#a020c8" stroke="#a020c8" stroke-width="0.50">Ku70<tspan font-size="10.3" dy="-6.3" stroke-width="0.3">His</tspan><tspan dy="6.3">/GST</tspan></text>
<text transform="translate(431.29 355.80) scale(1.0754 1)" font-size="16.20" fill="#000" stroke="#000" stroke-width="0.50">µM</text>
<text transform="translate(438.30 384.00) scale(1.2117 1)" font-size="16.20" fill="#ff0000" stroke="#ff0000" stroke-width="0.38">8</text>
<text transform="translate(438.77 408.10) scale(1.1189 1)" font-size="16.20" fill="#ff8000" stroke="#ff8000" stroke-width="0.38">4</text>
<text transform="translate(437.90 444.20) scale(1.3000 1)" font-size="16.20" fill="#0c0c9c" stroke="#0c0c9c" stroke-width="0.38">2</text>
<text transform="translate(440.52 500.70) scale(0.8615 1)" font-size="16.20" fill="#00c000" stroke="#00c000" stroke-width="0.38">1</text>
<text transform="translate(440.38 539.70) scale(1.0697 1)" font-size="16.20" fill="#a020c8" stroke="#a020c8" stroke-width="0.38">4</text>
<text transform="translate(474.85 434.70) scale(1.0226 1)" font-size="17.20" fill="#000" stroke="#000" stroke-width="0.50">MBP-Ku70-β-barrel<tspan font-size="10.3" dy="-6.3" stroke-width="0.3">His</tspan><tspan dy="6.3">/GST-NP1</tspan></text>
<text transform="translate(475.44 539.70) scale(1.0272 1)" font-size="17.20" fill="#a020c8" stroke="#a020c8" stroke-width="0.50">MBP-Ku70-β-barrel<tspan font-size="10.3" dy="-6.3" stroke-width="0.3">His</tspan><tspan dy="6.3">/GST</tspan></text>
<text transform="translate(440.15 708.30) scale(1.0241 1)" font-size="17.20" fill="#ff0000" stroke="#ff0000" stroke-width="0.50">Ku70<tspan font-size="10.3" dy="-6.3" stroke-width="0.3">His</tspan><tspan dy="6.3">/GST-NP1</tspan></text>
<text transform="translate(438.44 788.80) scale(1.0281 1)" font-size="17.20" fill="#a000e0" stroke="#a000e0" stroke-width="0.50">MBP-Ku70-β-barrel<tspan font-size="10.3" dy="-6.3" stroke-width="0.3">His</tspan><tspan dy="6.3">/GST-NP1</tspan></text>
<text transform="translate(114.64 948.90) scale(1.0431 1)" font-size="20.60" fill="#000" stroke="#000" stroke-width="0.50">Binding parameters of protein interactions</text>
<text transform="translate(41.13 991.50) scale(1.0462 1)" font-size="20.60" fill="#000" stroke="#000" stroke-width="0.50">Sample</text>
<text transform="translate(264.83 991.50) scale(1.0476 1)" font-size="20.60" fill="#000" stroke="#000" stroke-width="0.50">K<tspan font-size="12.0" dy="6.0" stroke-width="0.2">D</tspan><tspan dy="-6.0">(nm)</tspan></text>
<text transform="translate(374.52 991.50) scale(1.0527 1)" font-size="20.60" fill="#000" stroke="#000" stroke-width="0.50">K<tspan font-size="12.0" dy="6.0" stroke-width="0.2">ass</tspan><tspan dy="-6.0">(M</tspan><tspan font-size="11.5" dy="-7.6" stroke-width="0.2">-1</tspan><tspan dy="7.6">S</tspan><tspan font-size="11.5" dy="-7.6" stroke-width="0.2">-1</tspan><tspan dy="7.6">)</tspan></text>
<text transform="translate(525.29 991.50) scale(1.0708 1)" font-size="20.60" fill="#000" stroke="#000" stroke-width="0.50">K<tspan font-size="12.0" dy="6.0" stroke-width="0.2">diss</tspan><tspan dy="-6.0">(S</tspan><tspan font-size="11.5" dy="-7.6" stroke-width="0.2">-1</tspan><tspan dy="7.6">)</tspan></text>
<text transform="translate(41.45 1031.40) scale(1.0338 1)" font-size="20.60" fill="#000" stroke="#000" stroke-width="0.50">Ku70</text>
<text transform="translate(41.43 1062.60) scale(1.0481 1)" font-size="20.60" fill="#000" stroke="#000" stroke-width="0.50">MBP-Ku70-β-Barrel</text>
<text transform="translate(263.83 1031.40) scale(1.0513 1)" font-size="20.60" fill="#000" stroke="#000" stroke-width="0.50">95 ± 22</text>
<text transform="translate(252.78 1062.60) scale(1.0382 1)" font-size="20.60" fill="#000" stroke="#000" stroke-width="0.50">722 ± 47</text>
<text transform="translate(384.43 1031.40) scale(1.0575 1)" font-size="20.60" fill="#000" stroke="#000" stroke-width="0.50">6.57<tspan font-weight="bold">×</tspan>10<tspan font-size="11.5" dy="-7.6" stroke-width="0.2">3</tspan></text>
<text transform="translate(388.01 1062.60) scale(1.0132 1)" font-size="20.60" fill="#000" stroke="#000" stroke-width="0.50">1.49<tspan font-weight="bold">×</tspan>10<tspan font-size="11.5" dy="-7.6" stroke-width="0.2">3</tspan></text>
<text transform="translate(517.94 1031.40) scale(1.0501 1)" font-size="20.60" fill="#000" stroke="#000" stroke-width="0.50">6.91<tspan font-weight="bold">×</tspan>10<tspan font-size="11.5" dy="-7.6" stroke-width="0.2">-4</tspan></text>
<text transform="translate(520.80 1062.60) scale(1.0186 1)" font-size="20.60" fill="#000" stroke="#000" stroke-width="0.50">1.01<tspan font-weight="bold">×</tspan>10<tspan font-size="11.5" dy="-7.6" stroke-width="0.2">-3</tspan></text>
</svg>
</body></html>
